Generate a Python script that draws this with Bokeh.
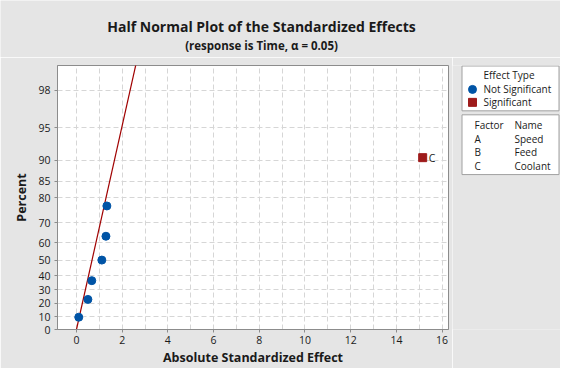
from statistics import NormalDist

from bokeh.plotting import figure
from bokeh.layouts import column, row
from bokeh.models import Label, FixedTicker, Range1d, ColumnDataSource
from bokeh.core.properties import value
from bokeh.embed import file_html
from bokeh.resources import INLINE

# ---------------- data ----------------
effects = [0.10, 0.50, 0.67, 1.11, 1.29, 1.33, 15.15]
percents = [9.5, 23.0, 36.5, 50.0, 63.5, 77.0, 90.5]
significant = [False, False, False, False, False, False, True]
effect_labels = ["", "", "", "", "", "", "C"]
y_tick_percents = [0, 10, 20, 30, 40, 50, 60, 70, 80, 85, 90, 95, 98]
x_ticks = [0, 2, 4, 6, 8, 10, 12, 14, 16]
x_grid = list(range(0, 17))
ref_line_sigma = 1.01
legend_types = ["Not Significant", "Significant"]
factors = ["A", "B", "C"]
factor_names = ["Speed", "Feed", "Coolant"]
title = "Half Normal Plot of the Standardized Effects"
subtitle = "(response is Time, \u03b1 = 0.05)"

FONT = "Open Sans"
TEXT = "#1a1a1a"
BLUE = "#0054A6"
RED = "#9E1B1B"
BG = "#e5e5e5"

nd = NormalDist()


def hz(pct):
    # half-normal probability scale
    return nd.inv_cdf(0.5 + pct / 200.0)


# layout constants (page px)
TH = 57                 # title panel height
MW, MH = 452, 311       # main plot size
BT, BB = 8, 38          # main plot top / bottom borders


# ---------------- panel helper (pixel-space figures) ----------------
def panel_fig(w, h, x0, y0, bt=0, bb=0):
    f = figure(width=w, height=h, output_backend="svg", toolbar_location=None,
               title=None,
               x_range=Range1d(x0, x0 + w), y_range=Range1d(y0 + h - bb, y0 + bt),
               min_border_left=0, min_border_right=0,
               min_border_top=bt, min_border_bottom=bb,
               x_axis_location=None, y_axis_location=None,
               background_fill_color=BG, border_fill_color=BG, outline_line_color=None)
    for g in f.grid:
        g.visible = False
    return f


def txt(f, x, y, s, size="10px", style="normal", align="left"):
    f.text(x=[x], y=[y], text=[s], text_font=value(FONT), text_font_size=size,
           text_font_style=style, text_align=align, text_baseline="middle", text_color=TEXT)


# ---------------- title panel ----------------
tfig = panel_fig(560, TH, 0, 0)
txt(tfig, 261, 26, title, size="14px", style="bold", align="center")
txt(tfig, 261, 45, subtitle, size="11.5px", style="bold", align="center")

# ---------------- main plot ----------------
z_top = 2.565
p = figure(width=MW, height=MH, output_backend="svg", toolbar_location=None,
           x_range=Range1d(-0.83, 16.28), y_range=Range1d(0, z_top),
           min_border_left=57, min_border_right=4, min_border_top=BT,
           min_border_bottom=BB, background_fill_color="white",
           border_fill_color=BG, outline_line_color="#8c8c8c")

ytick_z = [hz(v) for v in y_tick_percents]
p.xaxis.ticker = FixedTicker(ticks=x_ticks, minor_ticks=[])
p.yaxis.ticker = FixedTicker(ticks=ytick_z, minor_ticks=[])
p.yaxis.major_label_overrides = {z: str(v) for z, v in zip(ytick_z, y_tick_percents)}
for ax in (p.xaxis[0], p.yaxis[0]):
    ax.axis_line_color = "#8c8c8c"
    ax.major_tick_line_color = "#8c8c8c"
    ax.major_tick_out = 3
    ax.major_tick_in = 0
    ax.major_label_text_font = FONT
    ax.major_label_text_font_size = "10.5px"
    ax.major_label_text_color = TEXT
    ax.axis_label_text_font = FONT
    ax.axis_label_text_font_style = "bold"
    ax.axis_label_text_font_size = "12.5px"
    ax.axis_label_text_color = TEXT
p.xaxis.axis_label = "Absolute Standardized Effect"
p.yaxis.axis_label = "Percent"
p.xaxis.major_label_standoff = 3
p.xaxis.axis_label_standoff = 2
p.yaxis.major_label_standoff = 4
p.yaxis.axis_label_standoff = 5

p.xgrid.ticker = FixedTicker(ticks=x_grid, minor_ticks=[])
p.ygrid.ticker = FixedTicker(ticks=ytick_z, minor_ticks=[])
for g in (p.xgrid[0], p.ygrid[0]):
    g.grid_line_color = "#d6d6d6"
    g.grid_line_dash = "5 3"
    g.grid_line_width = 1

# reference line through origin
line_z = [0.0, 3.0]
p.line([ref_line_sigma * z for z in line_z], line_z, line_color="#A00000", line_width=1.2)

ns_src = ColumnDataSource(dict(
    x=[e for e, s in zip(effects, significant) if not s],
    y=[hz(v) for v, s in zip(percents, significant) if not s]))
sg_src = ColumnDataSource(dict(
    x=[e for e, s in zip(effects, significant) if s],
    y=[hz(v) for v, s in zip(percents, significant) if s],
    t=[l for l, s in zip(effect_labels, significant) if s]))
p.scatter("x", "y", source=ns_src, marker="circle", size=8, fill_color=BLUE, line_color=BLUE)
p.scatter("x", "y", source=sg_src, marker="square", size=8, fill_color=RED, line_color=RED)
for x, y, t in zip(sg_src.data["x"], sg_src.data["y"], sg_src.data["t"]):
    p.add_layout(Label(x=x, y=y, text=t, x_offset=6, text_baseline="middle",
                       text_font=FONT, text_font_size="10.5px", text_color=TEXT))

# ---------------- legend panel (frame aligned with the main frame) ----------------
SW = 560 - MW
sfig = panel_fig(SW, MH, MW, TH, bt=BT, bb=BB)
sfig.quad(left=[461.5, 461.5], right=[558.5, 558.5], top=[65.5, 114.5], bottom=[110.5, 174.5],
          fill_color="white", line_color="#a0a0a0", line_width=1)
txt(sfig, 483, 75, "Effect Type")
sfig.scatter([472], [89], marker="circle", size=8, fill_color=BLUE, line_color=BLUE)
sfig.scatter([472], [102], marker="square", size=8, fill_color=RED, line_color=RED)
txt(sfig, 483, 89, legend_types[0])
txt(sfig, 483, 102, legend_types[1])
txt(sfig, 474, 124.5, "Factor")
txt(sfig, 514, 124.5, "Name")
for i, (f, n) in enumerate(zip(factors, factor_names)):
    yy = 138.5 + 13.5 * i
    txt(sfig, 474, yy, f)
    txt(sfig, 514, yy, n)

layout = column(tfig, row(p, sfig))
open("out.html", "w").write(file_html(layout, INLINE))
